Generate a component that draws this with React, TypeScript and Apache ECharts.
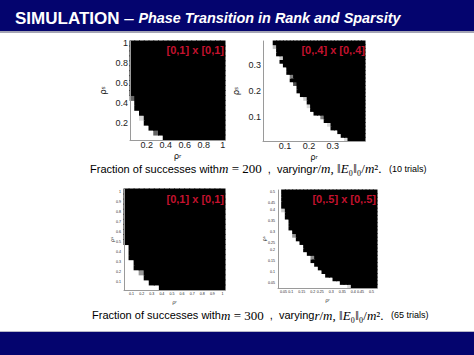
import React, { useEffect, useRef } from "react";
import * as echarts from "echarts";

const TITLE_MAIN = "SIMULATION";
const TITLE_SUB = "Phase Transition in Rank and Sparsity";

// Panel A (m = 200, [0,1] x [0,1]) : 20 x 20 cells, rows listed bottom -> top
const aCols = 20;
const aWhite = [7, 5, 4, 3, 2, 2, 1, 1, 0, 0, 0, 0, 0, 0, 0, 0, 0, 0, 0, 0];
const aEdge = [0, 0.4, 0, 0, 0.85, 0, 0, 0, 0.4, 0, 0, 0, 0, 0, 0, 0, 0, 0, 0, 0];
const aXTickIdx = [3, 7, 11, 15, 19];
const aXTicks = ["0.2", "0.4", "0.6", "0.8", "1"];
const aYTickIdx = [3, 7, 11, 15, 19];
const aYTicks = ["0.2", "0.4", "0.6", "0.8", "1"];

// Panel B (m = 200, [0,.4] x [0,.4]) : 30 x 27 cells
const bCols = 30;
const bWhite = [24, 23, 22, 20, 19, 18, 17, 15, 14, 13, 13, 12, 11, 10, 10, 9, 8, 8, 7, 7, 6, 5, 5, 4, 4, 3, 3];
const bEdge = [0.85, 0, 0, 0, 0.85, 0, 0.5, 0, 0, 0.85, 0, 0.8, 0, 0, 0, 0.3, 0, 0.5, 0, 0, 0, 0, 0.8, 0, 0, 0.75, 0];
const bXTickIdx = [6, 13, 20];
const bXTicks = ["0.1", "0.2", "0.3"];
const bYTickIdx = [6, 13, 20];
const bYTicks = ["0.1", "0.2", "0.3"];

// Panel C (m = 300, [0,1] x [0,1]) : 20 x 20 cells
const cCols = 20;
const cWhite = [7, 5, 4, 3, 2, 2, 1, 1, 1, 0, 0, 0, 0, 0, 0, 0, 0, 0, 0, 0];
const cEdge = [0, 0, 0, 0.6, 0, 0, 0, 0, 0, 0, 0, 0, 0, 0, 0, 0, 0, 0, 0, 0];
const cXTickIdx = [1, 3, 5, 7, 9, 11, 13, 15, 17, 19];
const cXTicks = ["0.1", "0.2", "0.3", "0.4", "0.5", "0.6", "0.7", "0.8", "0.9", "1"];
const cYTickIdx = [1, 3, 5, 7, 9, 11, 13, 15, 17, 19];
const cYTicks = ["0.1", "0.2", "0.3", "0.4", "0.5", "0.6", "0.7", "0.8", "0.9", "1"];

// Panel D (m = 300, [0,.5] x [0,.5]) : 27 x 27 cells
const dCols = 27;
const dWhite = [19, 17, 15, 13, 12, 11, 10, 9, 9, 8, 7, 7, 6, 5, 4, 4, 3, 3, 3, 2, 2, 1, 1, 1, 1, 1, 1];
const dEdge = [0.85, 0, 0, 0, 0, 0, 0, 0, 0.55, 0, 0, 0, 0, 0, 0.6, 0, 0, 0, 0, 0, 0, 0.8, 0, 0, 0, 0, 0];
const dXTickIdx = [1, 3, 6, 9, 11, 14, 17, 20, 22, 25];
const dXTicks = ["0.05", "0.1", "0.15", "0.2", "0.25", "0.3", "0.35", "0.4", "0.45", "0.5"];
const dYTickIdx = [1, 4, 7, 10, 12, 15, 18, 21, 23, 26];
const dYTicks = ["0.05", "0.1", "0.15", "0.2", "0.25", "0.3", "0.35", "0.4", "0.45", "0.5"];

const rangeLabels = ["[0,1] x [0,1]", "[0,.4] x [0,.4]", "[0,1] x [0,1]", "[0,.5] x [0,.5]"];
const captions = [
  { m: "200", trials: "(10 trials)" },
  { m: "300", trials: "(65 trials)" },
];

const panels = [
  { cols: aCols, white: aWhite, edge: aEdge, xi: aXTickIdx, xl: aXTicks, yi: aYTickIdx, yl: aYTicks },
  { cols: bCols, white: bWhite, edge: bEdge, xi: bXTickIdx, xl: bXTicks, yi: bYTickIdx, yl: bYTicks },
  { cols: cCols, white: cWhite, edge: cEdge, xi: cXTickIdx, xl: cXTicks, yi: cYTickIdx, yl: cYTicks },
  { cols: dCols, white: dWhite, edge: dEdge, xi: dXTickIdx, xl: dXTicks, yi: dYTickIdx, yl: dYTicks },
];

// layout / style only
const layouts = [
  { left: 130, top: 41, width: 95, height: 99, fs: 9, llh: 8, margin: 1, xGap: 12, yGap: 24, nfs: 8.5, nsub: 5.5, lh: 7, lx: 224, ly: 50 },
  { left: 263, top: 41, width: 102, height: 100, fs: 9, llh: 8, margin: 1, xGap: 12, yGap: 24, nfs: 8.5, nsub: 5.5, lh: 7, lx: 365, ly: 50 },
  { left: 124, top: 189, width: 101, height: 101, fs: 3.6, llh: 4, margin: 2, xGap: 9, yGap: 10, nfs: 5, nsub: 3.5, lh: 5, lx: 224, ly: 199 },
  { left: 278, top: 190, width: 99, height: 98, fs: 3.6, llh: 4, margin: 2, xGap: 9, yGap: 12, nfs: 5, nsub: 3.5, lh: 5, lx: 376, ly: 199 },
];

const FONT = "'Liberation Sans', Arial, sans-serif";
const SERIF = "'Liberation Serif', 'DejaVu Serif', serif";
const NAVY = "#04046e";

function buildCells(white: number[], edge: number[], nCols: number) {
  const out: number[][] = [];
  white.forEach((w, r) => {
    for (let c = 0; c < nCols; c++) {
      const v = c < w ? 1 : c === w ? edge[r] : 0;
      out.push([c, r, v]);
    }
  });
  return out;
}

function indices(n: number) {
  return Array.from({ length: n }, (_, i) => String(i));
}

export default function App() {
  const ref = useRef<HTMLDivElement>(null);
  useEffect(() => {
    if (!ref.current) return;
    const chart = echarts.init(ref.current, null, { renderer: "svg" });

    const grids: any[] = [];
    const xAxes: any[] = [];
    const yAxes: any[] = [];
    const series: any[] = [];

    panels.forEach((p, i) => {
      const L = layouts[i];
      grids.push({
        left: L.left,
        top: L.top,
        width: L.width,
        height: L.height,
        containLabel: false,
        outerBoundsMode: "none",
        show: true,
        backgroundColor: "#000000",
        borderWidth: 0,
      });
      const nameStyle = {
        color: "#222",
        lineHeight: L.lh,
        rich: {
          a: { fontSize: L.nfs, lineHeight: L.lh, fontFamily: "'DejaVu Sans', sans-serif", color: "#222" },
          b: { fontSize: L.nsub, lineHeight: L.lh, fontFamily: "'DejaVu Sans', sans-serif", verticalAlign: "bottom", color: "#222" },
        },
      };
      xAxes.push({
        type: "category",
        gridIndex: i,
        data: indices(p.cols),
        z: 5,
        axisLine: { show: true, lineStyle: { color: "#9a9a9a", width: 1 } },
        axisTick: { show: false },
        splitLine: { show: false },
        axisLabel: {
          interval: (idx: number) => p.xi.includes(idx),
          formatter: (_v: string, idx: number) => {
            const k = p.xi.indexOf(idx);
            return k >= 0 ? p.xl[k] : "";
          },
          fontSize: L.fs,
          lineHeight: L.llh,
          fontFamily: FONT,
          color: "#222",
          margin: L.margin,
        },
        name: "{a|ρ}{b|r}",
        nameLocation: "middle",
        nameGap: L.xGap,
        nameMoveOverlap: false,
        nameTextStyle: nameStyle,
      });
      const nRows = p.white.length;
      yAxes.push({
        type: "category",
        gridIndex: i,
        data: indices(nRows),
        z: 5,
        axisLine: { show: true, lineStyle: { color: "#9a9a9a", width: 1 } },
        axisTick: { show: false },
        splitLine: { show: false },
        axisLabel: {
          interval: (idx: number) => p.yi.includes(idx),
          formatter: (_v: string, idx: number) => {
            const k = p.yi.indexOf(idx);
            return k >= 0 ? p.yl[k] : "";
          },
          fontSize: L.fs,
          lineHeight: L.llh,
          fontFamily: FONT,
          color: "#222",
          margin: L.margin + 1,
        },
        name: "{a|ρ}{b|s}",
        nameLocation: "middle",
        nameGap: L.yGap,
        nameRotate: 90,
        nameMoveOverlap: false,
        nameTextStyle: nameStyle,
      });
      series.push({
        type: "custom",
        xAxisIndex: i,
        yAxisIndex: i,
        data: buildCells(p.white, p.edge, p.cols),
        silent: true,
        encode: { x: 0, y: 1 },
        renderItem: (_params: any, api: any) => {
          const pt = api.coord([api.value(0), api.value(1)]);
          const sz = api.size([1, 1]);
          const col = api.visual("color");
          return {
            type: "rect",
            shape: { x: pt[0] - sz[0] / 2 - 0.5, y: pt[1] - sz[1] / 2 - 0.5, width: sz[0] + 1, height: sz[1] + 1 },
            style: { fill: col, stroke: null, lineWidth: 0 },
          };
        },
      });
    });

    const captionRich = {
      t: { fontFamily: FONT, fontSize: 11, lineHeight: 12, color: "#111" },
      mi: { fontFamily: SERIF, fontStyle: "italic", fontSize: 13, lineHeight: 12, color: "#111" },
      mr: { fontFamily: SERIF, fontSize: 13, lineHeight: 12, color: "#111" },
      s: { fontFamily: FONT, fontSize: 9, lineHeight: 12, color: "#111" },
    };
    const captionText = (m: string, trials: string) =>
      `{t|Fraction of successes with}{mi|m}{mr| = ${m}}{t|  ,  varying}{mi|r}{mr|/}{mi|m}{mr|, ‖}{mi|E}{mr|₀‖₀/}{mi|m}{mr|².}{s|   ${trials}}`;

    const graphic: any[] = [
      { type: "rect", shape: { x: 0, y: 0, width: 474, height: 31 }, style: { fill: NAVY } },
      { type: "rect", shape: { x: 0, y: 31, width: 474, height: 2 }, style: { fill: "#a4a4b4" } },
      { type: "rect", shape: { x: 0, y: 331, width: 474, height: 1 }, style: { fill: "#b8b8c8" } },
      { type: "rect", shape: { x: 0, y: 332, width: 474, height: 23 }, style: { fill: NAVY } },
      {
        type: "text",
        x: 15,
        y: 18,
        style: {
          text: `{b|${TITLE_MAIN}}{d| – }{i|${TITLE_SUB}}`,
          verticalAlign: "middle",
          rich: {
            b: { fontFamily: FONT, fontSize: 17, fontWeight: "bold", fill: "#ffffff", color: "#ffffff" },
            d: { fontFamily: FONT, fontSize: 17, fill: "#ffffff", color: "#ffffff" },
            i: { fontFamily: FONT, fontSize: 14.4, fontWeight: "bold", fontStyle: "italic", fill: "#ffffff", color: "#ffffff" },
          },
        },
      },
      {
        type: "text",
        x: 90,
        y: 168.5,
        style: { text: captionText(captions[0].m, captions[0].trials), verticalAlign: "middle", rich: captionRich },
      },
      {
        type: "text",
        x: 92,
        y: 315,
        style: { text: captionText(captions[1].m, captions[1].trials), verticalAlign: "middle", rich: captionRich },
      },
    ];
    rangeLabels.forEach((txt, i) => {
      const L = layouts[i];
      graphic.push({
        type: "text",
        x: L.lx,
        y: L.ly,
        z: 10,
        style: {
          text: txt,
          align: "right",
          verticalAlign: "middle",
          fill: "#c4122e",
          fontFamily: FONT,
          fontSize: 11,
          fontWeight: "bold",
        },
      });
    });

    chart.setOption({
      animation: false,
      backgroundColor: "#ffffff",
      grid: grids,
      xAxis: xAxes,
      yAxis: yAxes,
      visualMap: {
        type: "continuous",
        show: false,
        min: 0,
        max: 1,
        dimension: 2,
        seriesIndex: [0, 1, 2, 3],
        inRange: { color: ["#000000", "#ffffff"] },
      },
      series,
      graphic,
    });
    return () => chart.dispose();
  }, []);
  return <div ref={ref} style={{ position: "absolute", left: 0, top: 0, width: 474, height: 355 }} />;
}
